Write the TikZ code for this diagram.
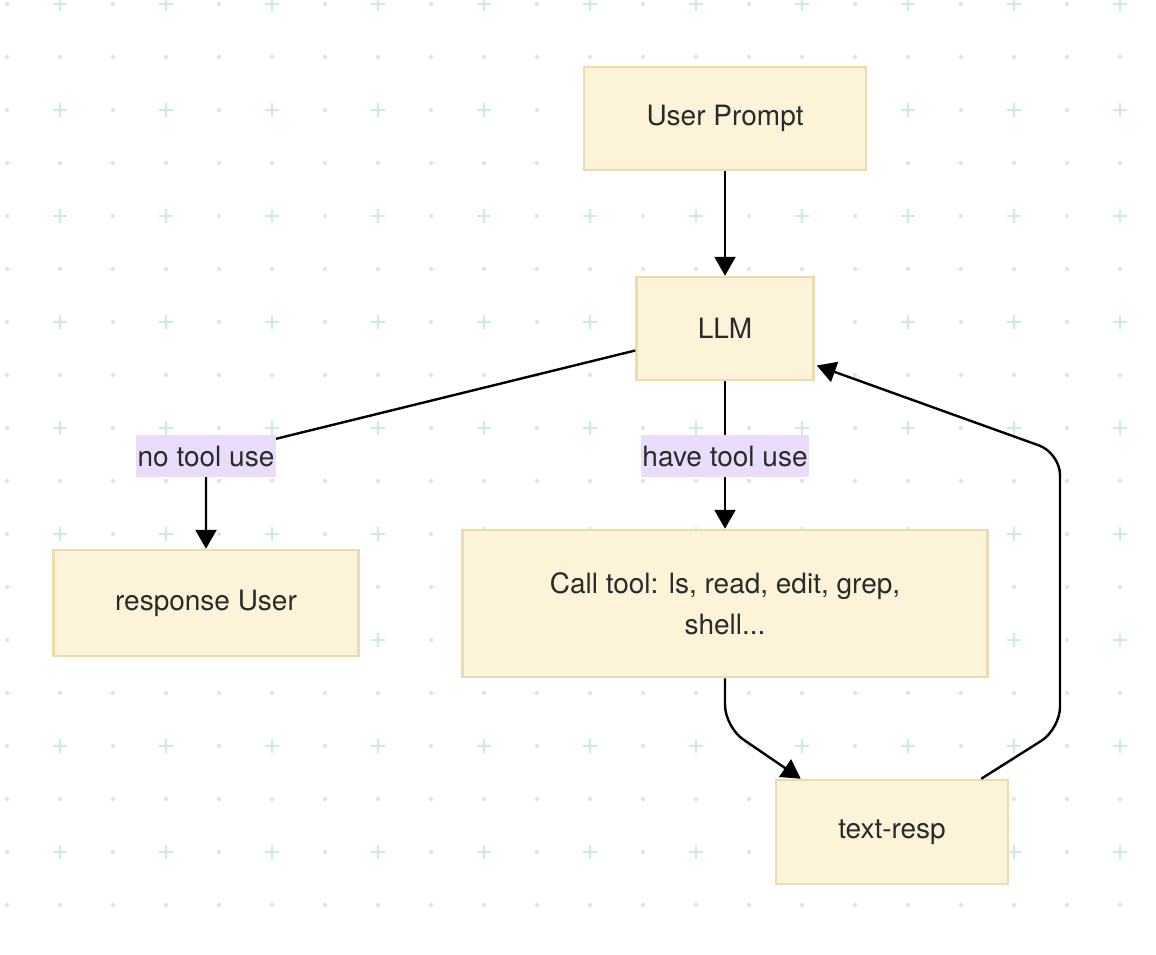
\documentclass[tikz,border=0pt]{standalone}
\usepackage{fontspec}
\setmainfont{TeX Gyre Heros}
\usetikzlibrary{arrows.meta,calc}
\definecolor{boxfill}{HTML}{FDF3D9}
\definecolor{boxline}{HTML}{EBDBAE}
\definecolor{lblfill}{HTML}{EADDFB}
\definecolor{txt}{HTML}{2A2A2A}
\definecolor{crossc}{HTML}{D2EAE4}
\definecolor{dotc}{HTML}{DDE7E5}
\begin{document}
\begin{tikzpicture}[x=1pt,y=-1pt,
  box/.style={draw=boxline, fill=boxfill, line width=2.5pt, inner sep=0pt, text=txt,
              font=\fontsize{28}{41}\selectfont, align=center},
  lbl/.style={fill=lblfill, inner xsep=1.5pt, inner ysep=0pt, minimum height=42pt, text=txt,
              font=\fontsize{28}{32}\selectfont},
  conn/.style={draw=black, line width=2.4pt},
  arr/.style={conn, -{Triangle[length=19pt,width=21pt]}}]
\fill[white] (0,0) rectangle (1156,954);
\useasboundingbox (0,0) rectangle (1156,954);
% background grid
\foreach \i in {0,...,21}
  \foreach \j in {0,...,17}
    \fill[dotc] (7+53*\i, 4+53*\j) circle (2.2pt);
\foreach \m in {0,...,10}
  \foreach \n in {0,...,8}
    \draw[crossc, line width=2.6pt] (53+106*\m, 4+106*\n) -- (67+106*\m, 4+106*\n)
                                     (60+106*\m, -3+106*\n) -- (60+106*\m, 11+106*\n);
% boxes
\node[box, minimum width=282pt, minimum height=103pt] (up)   at (725,118.5) {User Prompt};
\node[box, minimum width=177pt, minimum height=103pt] (llm)  at (725,328.5) {LLM};
\node[box, minimum width=305pt, minimum height=106pt] (resp) at (206,603)   {response User};
\node[box, minimum width=525pt, minimum height=147pt] (call) at (725,603.5) {Call tool: ls, read, edit, grep,\\shell...};
\node[box, minimum width=232pt, minimum height=104pt] (tr)   at (892,832)   {text-resp};
% turn points
\coordinate (c1) at (206,456);
\coordinate (c2) at (725,727);
\coordinate (c3) at (1060,729);
\coordinate (c4) at (1060,453);
% connectors
\draw[arr] (up) -- (llm);
\draw[arr] (llm) -- (c1) -- (resp);
\draw[arr] (llm) -- (call);
\draw[arr, rounded corners=22pt] (call.south) -- (c2) -- ([xshift=26pt]tr.north west);
\draw[arr, rounded corners=22pt] ([xshift=-28pt]tr.north east) -- (c3) -- (c4) -- ($(llm.east)+(2,37)$);
% labels
\node[lbl] (ntl) at (c1) {no tool use};
\node[lbl] (htl) at (725,456) {have tool use};
\end{tikzpicture}
\end{document}
